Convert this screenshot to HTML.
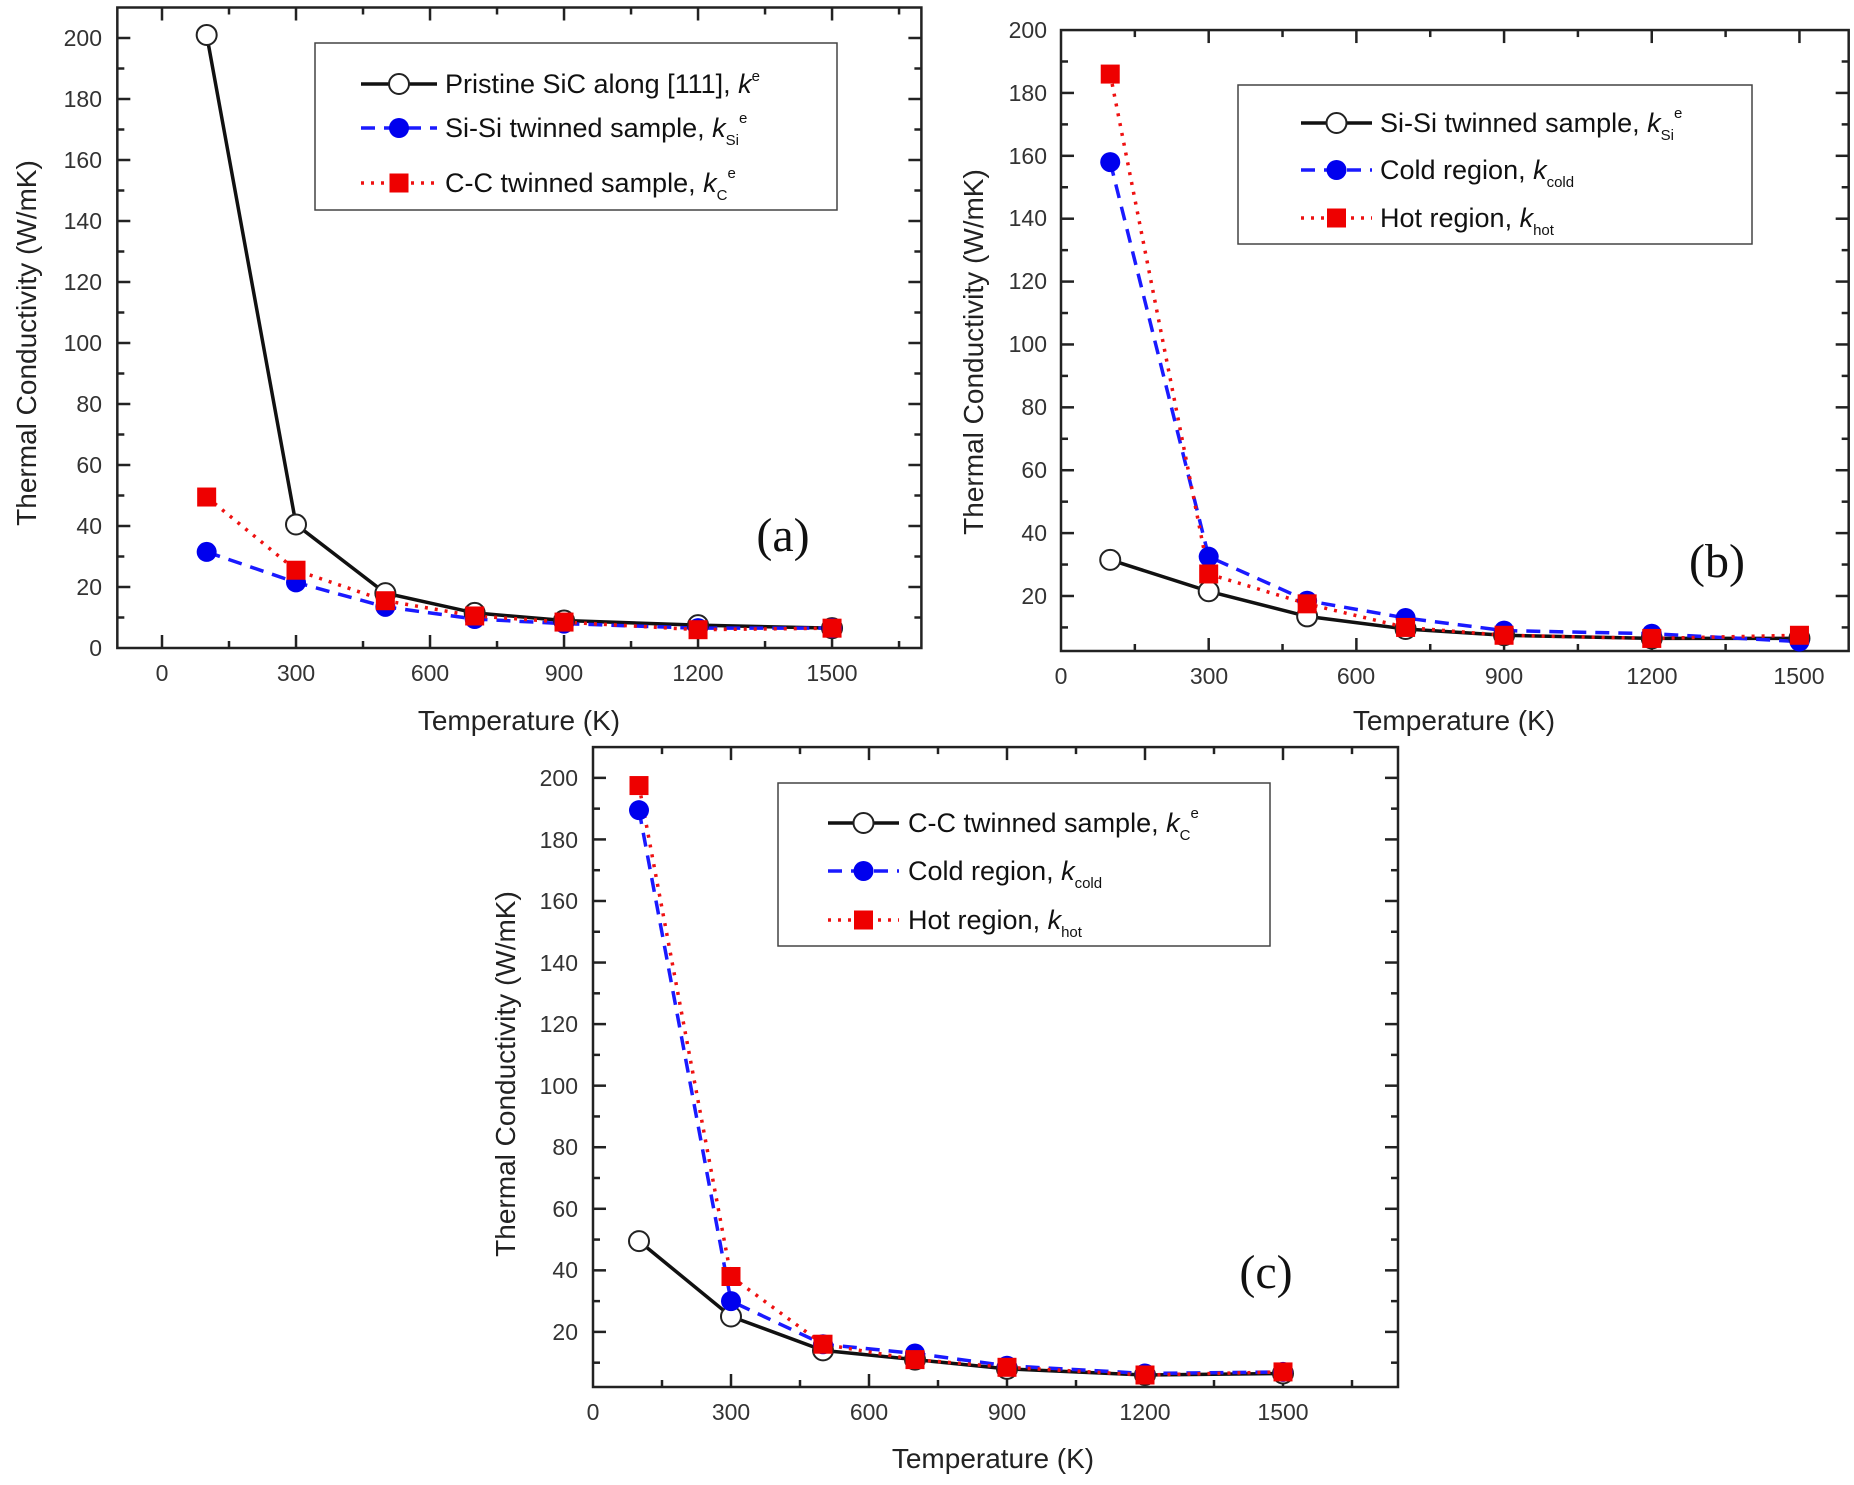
<!DOCTYPE html>
<html><head><meta charset="utf-8"><style>
html,body{margin:0;padding:0;background:#fff;}
svg{display:block;font-family:"Liberation Sans",sans-serif;}
.t{font-size:23px;fill:#333;}
.ax{font-size:28px;fill:#222;}
.lg{font-size:27px;fill:#111;}
.sub{font-size:15px;fill:#111;}
.pl{font-family:"Liberation Serif",serif;font-size:48px;fill:#111;}
</style></head><body>
<svg id="s" width="1854" height="1485" viewBox="0 0 1854 1485" xmlns="http://www.w3.org/2000/svg">
<rect x="315" y="43" width="522" height="167" fill="#fff" stroke="#444" stroke-width="1.5"/>
<rect x="1238" y="85" width="514" height="159" fill="#fff" stroke="#444" stroke-width="1.5"/>
<rect x="778" y="783" width="492" height="163" fill="#fff" stroke="#444" stroke-width="1.5"/>
<g id="g"></g>
<!-- Panel a text -->
<g class="t" text-anchor="middle">
<text x="162" y="681">0</text><text x="296" y="681">300</text><text x="430" y="681">600</text><text x="564" y="681">900</text><text x="698" y="681">1200</text><text x="832" y="681">1500</text>
</g>
<g class="t" text-anchor="end">
<text x="102" y="656">0</text><text x="102" y="595">20</text><text x="102" y="534">40</text><text x="102" y="473">60</text><text x="102" y="412">80</text><text x="102" y="351">100</text><text x="102" y="290">120</text><text x="102" y="229">140</text><text x="102" y="168">160</text><text x="102" y="107">180</text><text x="102" y="46">200</text>
</g>
<text class="ax" x="519" y="730" text-anchor="middle">Temperature (K)</text>
<text class="ax" transform="translate(36,343) rotate(-90)" text-anchor="middle">Thermal Conductivity (W/mK)</text>
<text class="pl" x="783" y="551" text-anchor="middle">(a)</text>
<text class="lg" x="445" y="93">Pristine SiC along [111], <tspan font-style="italic">k</tspan><tspan class="sub" dy="-12">e</tspan></text>
<text class="lg" x="445" y="137">Si-Si twinned sample, <tspan font-style="italic">k</tspan><tspan class="sub" dy="8">Si</tspan><tspan class="sub" dy="-22">e</tspan></text>
<text class="lg" x="445" y="192">C-C twinned sample, <tspan font-style="italic">k</tspan><tspan class="sub" dy="8">C</tspan><tspan class="sub" dy="-22">e</tspan></text>
<!-- Panel b text -->
<g class="t" text-anchor="middle">
<text x="1061" y="684">0</text><text x="1209" y="684">300</text><text x="1356" y="684">600</text><text x="1504" y="684">900</text><text x="1652" y="684">1200</text><text x="1799" y="684">1500</text>
</g>
<g class="t" text-anchor="end">
<text x="1047" y="604">20</text><text x="1047" y="541">40</text><text x="1047" y="478">60</text><text x="1047" y="415">80</text><text x="1047" y="352">100</text><text x="1047" y="289">120</text><text x="1047" y="226">140</text><text x="1047" y="164">160</text><text x="1047" y="101">180</text><text x="1047" y="38">200</text>
</g>
<text class="ax" x="1454" y="730" text-anchor="middle">Temperature (K)</text>
<text class="ax" transform="translate(983,352) rotate(-90)" text-anchor="middle">Thermal Conductivity (W/mK)</text>
<text class="pl" x="1717" y="577" text-anchor="middle">(b)</text>
<text class="lg" x="1380" y="132">Si-Si twinned sample, <tspan font-style="italic">k</tspan><tspan class="sub" dy="8">Si</tspan><tspan class="sub" dy="-22">e</tspan></text>
<text class="lg" x="1380" y="179">Cold region, <tspan font-style="italic">k</tspan><tspan class="sub" dy="8">cold</tspan></text>
<text class="lg" x="1380" y="227">Hot region, <tspan font-style="italic">k</tspan><tspan class="sub" dy="8">hot</tspan></text>
<!-- Panel c text -->
<g class="t" text-anchor="middle">
<text x="593" y="1420">0</text><text x="731" y="1420">300</text><text x="869" y="1420">600</text><text x="1007" y="1420">900</text><text x="1145" y="1420">1200</text><text x="1283" y="1420">1500</text>
</g>
<g class="t" text-anchor="end">
<text x="578" y="1340">20</text><text x="578" y="1278">40</text><text x="578" y="1217">60</text><text x="578" y="1155">80</text><text x="578" y="1094">100</text><text x="578" y="1032">120</text><text x="578" y="971">140</text><text x="578" y="909">160</text><text x="578" y="848">180</text><text x="578" y="786">200</text>
</g>
<text class="ax" x="993" y="1468" text-anchor="middle">Temperature (K)</text>
<text class="ax" transform="translate(515,1074) rotate(-90)" text-anchor="middle">Thermal Conductivity (W/mK)</text>
<text class="pl" x="1266" y="1288" text-anchor="middle">(c)</text>
<text class="lg" x="908" y="832">C-C twinned sample, <tspan font-style="italic">k</tspan><tspan class="sub" dy="8">C</tspan><tspan class="sub" dy="-22">e</tspan></text>
<text class="lg" x="908" y="880">Cold region, <tspan font-style="italic">k</tspan><tspan class="sub" dy="8">cold</tspan></text>
<text class="lg" x="908" y="929">Hot region, <tspan font-style="italic">k</tspan><tspan class="sub" dy="8">hot</tspan></text>
</svg>
<script>
var NS="http://www.w3.org/2000/svg",G=document.getElementById("g");
function el(n,a){var e=document.createElementNS(NS,n);for(var k in a)e.setAttribute(k,a[k]);G.appendChild(e);return e;}
function panel(P){
 var X=function(k){return P.x0+P.sx*k},Y=function(v){return P.y0-P.sy*(v-P.v0)};
 var L=X(P.kmin),R=X(P.kmax),T=Y(P.vmax),B=Y(P.v0);
 el("rect",{x:L,y:T,width:R-L,height:B-T,fill:"none",stroke:"#222","stroke-width":2.5});
 for(var k=0;k<=P.kmax;k+=150){var m=(k%300==0),l=m?13:7;var x=X(k);if(x<=L+1||x>=R-1)continue;
  el("line",{x1:x,y1:B,x2:x,y2:B-l,stroke:"#222","stroke-width":2.5});el("line",{x1:x,y1:T,x2:x,y2:T+l,stroke:"#222","stroke-width":2.5});}
 for(var v=0;v<=210;v+=10){var y=Y(v);if(y>=B-1||y<=T+1)continue;var m=(v%20==0),l=m?13:7;
  el("line",{x1:L,y1:y,x2:L+l,y2:y,stroke:"#222","stroke-width":2.5});el("line",{x1:R,y1:y,x2:R-l,y2:y,stroke:"#222","stroke-width":2.5});}
 var ks=[100,300,500,700,900,1200,1500];
 P.series.forEach(function(s){
  var pts=s.d.map(function(v,i){return X(ks[i])+","+Y(v)}).join(" ");
  el("polyline",{points:pts,fill:"none",stroke:s.c,"stroke-width":s.w,"stroke-dasharray":s.da||"none"});
 });
 P.series.forEach(function(s){s.d.forEach(function(v,i){mark(s.m,X(ks[i]),Y(v));});});
 var lg=P.lg;
 P.series.forEach(function(s,i){var y=lg.ys[i];
  el("line",{x1:lg.x1,y1:y,x2:lg.x2,y2:y,stroke:s.c,"stroke-width":s.w,"stroke-dasharray":s.da||"none"});
  mark(s.m,(lg.x1+lg.x2)/2,y);});
}
function mark(m,x,y){
 if(m=="o")el("circle",{cx:x,cy:y,r:10,fill:"#fff",stroke:"#222","stroke-width":2});
 else if(m=="b")el("circle",{cx:x,cy:y,r:10,fill:"#0000ee"});
 else el("rect",{x:x-9.5,y:y-9.5,width:19,height:19,fill:"#ee0000"});
}
var K={c:"#111",w:3.5,m:"o"};
function blue(){return {c:"#1a1aff",w:3.5,da:"14,9",m:"b"}}
function red(){return {c:"#ee1111",w:3.5,da:"3,7",m:"r"}}
function S(b,d){var o={};for(var k in b)o[k]=b[k];o.d=d;return o;}
panel({x0:162,sx:0.4467,y0:648,sy:3.05,v0:0,vmax:210,kmin:-100,kmax:1700,
 series:[S(K,[201,40.5,18,11.5,9,7.5,6.5]),S(blue(),[31.5,21.5,13.5,9.5,8,6.5,6.5]),S(red(),[49.5,25.5,15.5,10.5,8.5,6,6.5])],
 lg:{x1:361,x2:437,ys:[84,128,183]}});
panel({x0:1061,sx:0.4923,y0:651,sy:3.144,v0:2.5,vmax:200,kmin:0,kmax:1600,
 series:[S(K,[31.5,21.5,13.5,9.5,7.5,6.5,6.5]),S(blue(),[158,32.5,18.5,13,9,8,5.5]),S(red(),[186,27,17.5,10,7.5,6.5,7.5])],
 lg:{x1:1301,x2:1372,ys:[123,170,218]}});
panel({x0:593,sx:0.46,y0:1387,sy:3.078,v0:2.1,vmax:210,kmin:0,kmax:1750,
 series:[S(K,[49.5,25,14,11,8,6,6.5]),S(blue(),[189.5,30,16,13,9,6.5,7]),S(red(),[197.5,38,16,11,8.5,6,7])],
 lg:{x1:828,x2:899,ys:[823,871,920]}});
</script>
</body></html>
